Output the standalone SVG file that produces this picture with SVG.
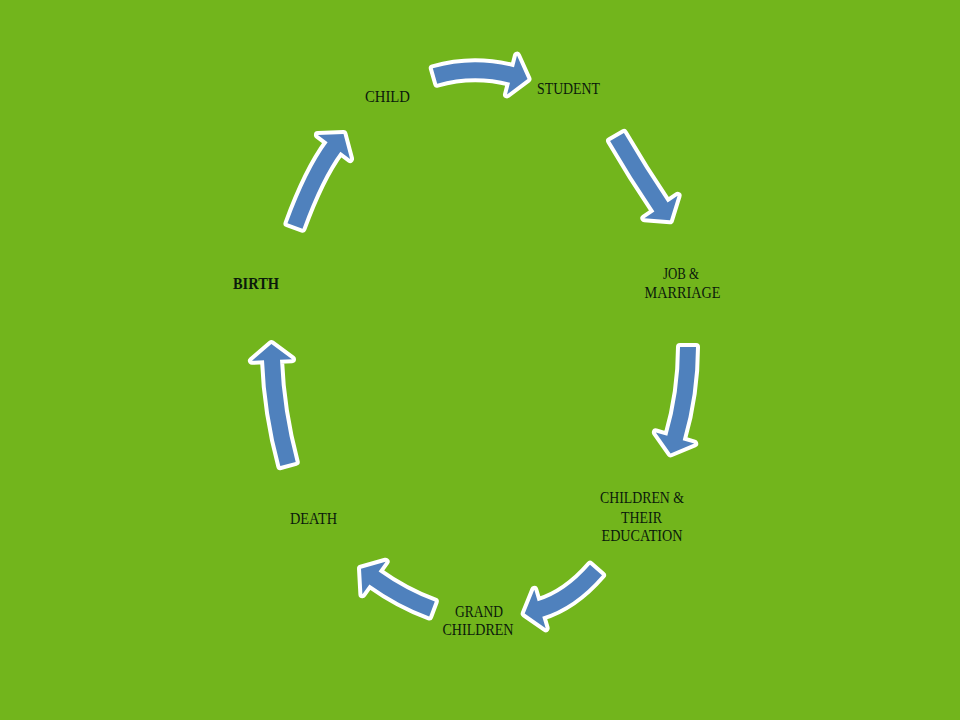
<svg xmlns="http://www.w3.org/2000/svg" width="960" height="720" viewBox="0 0 960 720">
<style>
.bg{fill:#72B51C}
.arr{fill:#4F81BD;stroke:#FFFFFF;stroke-width:8;stroke-linejoin:round;paint-order:stroke}
.lbl{font-family:"Liberation Serif","Times New Roman",serif;font-size:17px;fill:#0B1A0B;text-anchor:middle}
.b{font-weight:bold}
</style>
<rect class="bg" x="0" y="0" width="960" height="720"/>
<g id="connectors">
<path id="a1" class="arr" d="M437.2,83.7 Q473.1,73.3 510.0,82.7 L507.0,94.4 L527.5,79.0 L517.0,55.6 L514.0,67.3 Q472.9,56.7 432.8,68.3 Z"/>
<path id="a2" class="arr" d="M610.1,141.0 Q631.2,177.3 654.4,211.5 L644.4,218.2 L670.0,220.3 L677.6,195.8 L667.6,202.5 Q644.8,168.7 623.9,133.0 Z"/>
<path id="a3" class="arr" d="M680,347 Q680,391.9 667.3,435.8 L655.8,432.4 L670.6,453.4 L694.2,443.6 L682.7,440.2 Q696,394.1 696,347 Z"/>
<path id="a4" class="arr" d="M590.0,564.8 Q565.5,593.0 537.7,601.3 L534.3,589.8 L524.7,613.6 L545.7,628.2 L542.3,616.7 Q574.5,607.0 602.0,575.2 Z"/>
<path id="a5" class="arr" d="M434.8,601.5 Q405.8,590.9 378.6,571.5 L385.6,561.7 L361.0,568.7 L362.4,594.3 L369.4,584.5 Q398.2,605.1 429.2,616.5 Z"/>
<path id="a6" class="arr" d="M295.7,461.9 Q282.0,410.8 280.0,359.7 L292.0,359.2 L271.4,344.0 L252.0,360.8 L264.0,360.3 Q266.0,413.2 280.3,466.1 Z"/>
<path id="a7" class="arr" d="M302.5,228.7 Q321.1,177.8 340.4,151.8 L350.1,158.9 L343.5,134.1 L317.9,135.1 L327.6,142.2 Q306.9,170.2 287.5,223.3 Z"/>
</g>
<g id="child"><text class="lbl" x="387.5" y="102" textLength="45" lengthAdjust="spacingAndGlyphs">CHILD</text></g>
<g id="student"><text class="lbl" x="568.5" y="94" textLength="63" lengthAdjust="spacingAndGlyphs">STUDENT</text></g>
<g id="job"><text class="lbl" x="681" y="279" textLength="36" lengthAdjust="spacingAndGlyphs">JOB &amp;</text><text class="lbl" x="682.5" y="298" textLength="76" lengthAdjust="spacingAndGlyphs">MARRIAGE</text></g>
<g id="children"><text class="lbl" x="642" y="503" textLength="84" lengthAdjust="spacingAndGlyphs">CHILDREN &amp;</text><text class="lbl" x="641.5" y="523" textLength="41" lengthAdjust="spacingAndGlyphs">THEIR</text><text class="lbl" x="642" y="541" textLength="81" lengthAdjust="spacingAndGlyphs">EDUCATION</text></g>
<g id="grand"><text class="lbl" x="479" y="617" textLength="48" lengthAdjust="spacingAndGlyphs">GRAND</text><text class="lbl" x="478" y="635" textLength="71" lengthAdjust="spacingAndGlyphs">CHILDREN</text></g>
<g id="death"><text class="lbl" x="313.5" y="524" textLength="47" lengthAdjust="spacingAndGlyphs">DEATH</text></g>
<g id="birth"><text class="lbl b" x="256" y="289" textLength="46" lengthAdjust="spacingAndGlyphs">BIRTH</text></g>
</svg>
